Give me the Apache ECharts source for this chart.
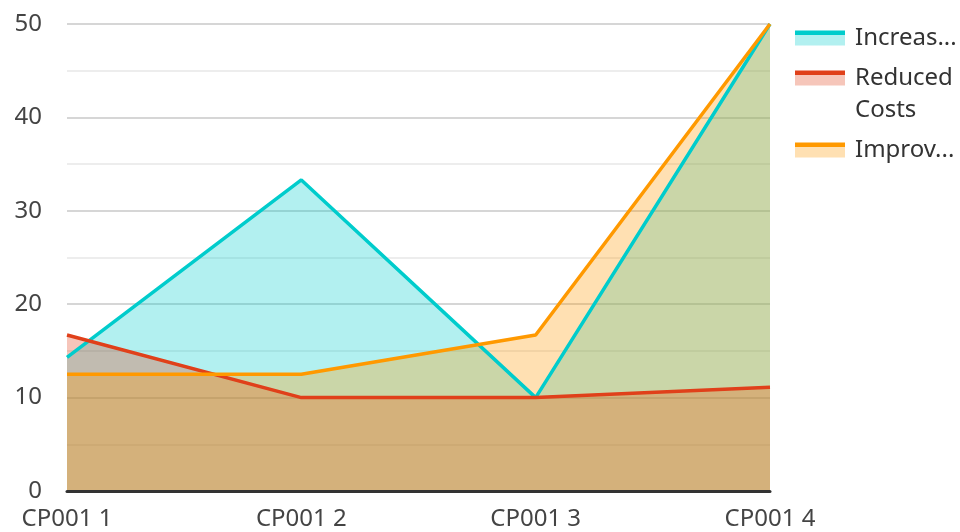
<!DOCTYPE html>
<html>
<head>
<meta charset="utf-8">
<script src="https://cdn.jsdelivr.net/npm/echarts@6/dist/echarts.min.js"></script>
<style>
  html, body { margin: 0; padding: 0; background: #fff; }
  #chart { width: 960px; height: 532px; }
</style>
</head>
<body>
<div id="chart"></div>
<script>
// data
const categories = ["CP001 1", "CP001 2", "CP001 3", "CP001 4"];
const increasedRevenue = [14.3, 33.3, 10, 50];
const reducedCosts = [16.7, 10, 10, 11.1];
const improvedEfficiency = [12.5, 12.5, 16.7, 50];
const seriesNames = ["Increased Revenue", "Reduced Costs", "Improved Efficiency"];
const yTicks = [0, 10, 20, 30, 40, 50];

const colors = ["#00CCCC", "#E0401A", "#FF9900"];
const lightColors = ["#B2F0F0", "#F6C6BA", "#FFE0B2"];
const legendTops = [22, 30, 134];

const font = "Noto Sans";
const chart = echarts.init(document.getElementById("chart"));

// legend icon: line on top, light fill below
function legendIcon(i) {
  return new echarts.graphic.LinearGradient(0, 0, 0, 1, [
    { offset: 0, color: colors[i] },
    { offset: 0.28, color: colors[i] },
    { offset: 0.28, color: lightColors[i] },
    { offset: 1, color: lightColors[i] }
  ]);
}

// one legend per item so the wrapped label keeps its icon on the first line
function makeLegend(name, i) {
  const wrapped = name === "Reduced Costs";
  return {
    orient: "vertical",
    left: 795,
    top: legendTops[i],
    padding: 0,
    itemWidth: 50,
    itemHeight: 15,
    icon: "rect",
    selectedMode: false,
    formatter: wrapped ? function () { return " \nReduced\nCosts"; } : "{name}",
    textStyle: {
      fontFamily: font,
      fontSize: 24,
      color: "#333",
      lineHeight: 32,
      width: 108,
      overflow: wrapped ? "none" : "truncate",
      ellipsis: "...",
      padding: [0, 0, 0, 5]
    },
    data: [{ name: name, itemStyle: { color: legendIcon(i) } }]
  };
}

function makeSeries(name, data, i) {
  return {
    name: name,
    type: "line",
    data: data,
    showSymbol: false,
    symbol: "none",
    color: colors[i],
    lineStyle: { width: 3.5, color: colors[i] },
    areaStyle: { color: colors[i], opacity: 0.3 },
    emphasis: { disabled: true }
  };
}

const option = {
  animation: false,
  textStyle: { fontFamily: font },
  grid: { left: 67, right: 190, top: 24, bottom: 41, containLabel: false },
  legend: seriesNames.map(makeLegend),
  xAxis: {
    type: "category",
    boundaryGap: false,
    data: categories,
    z: 5,
    axisLine: { show: true, lineStyle: { color: "#333", width: 3 } },
    axisTick: { show: false },
    axisLabel: { fontFamily: font, fontSize: 24, color: "#444", margin: 16 }
  },
  yAxis: {
    type: "value",
    min: yTicks[0],
    max: yTicks[yTicks.length - 1],
    interval: 10,
    axisLine: { show: false },
    axisTick: { show: false },
    axisLabel: { fontFamily: font, fontSize: 24, color: "#444", margin: 25 },
    splitLine: { lineStyle: { color: "#c8c8c8", width: 1.5 } },
    minorTick: { show: false, splitNumber: 2 },
    minorSplitLine: { show: true, lineStyle: { color: "#e8e8e8", width: 1.5 } }
  },
  series: [
    makeSeries(seriesNames[0], increasedRevenue, 0),
    makeSeries(seriesNames[1], reducedCosts, 1),
    makeSeries(seriesNames[2], improvedEfficiency, 2)
  ]
};

chart.setOption(option);
</script>
</body>
</html>
